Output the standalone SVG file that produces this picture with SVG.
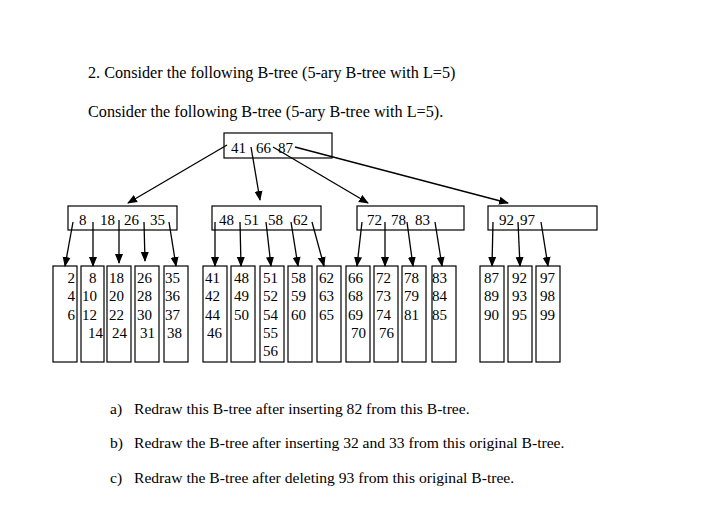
<svg xmlns="http://www.w3.org/2000/svg" width="701" height="516" viewBox="0 0 701 516">
<defs>
<marker id="ah" markerWidth="10" markerHeight="10" refX="9" refY="5" orient="auto" markerUnits="userSpaceOnUse"><path d="M0,1 L10,5 L0,9 z" fill="#000"/></marker>
<style>
text{font-family:"Liberation Serif","Times New Roman",serif;font-size:15px;fill:#000}
.h{font-size:16.2px}
.q{font-size:15.6px}
.b{fill:#fff;stroke:#000;stroke-width:1.2}
.c line{stroke:#000;stroke-width:1.3;marker-end:url(#ah)}
</style>
</defs>
<rect width="701" height="516" fill="#fff"/>
<text class="h" x="88" y="78">2. Consider the following B-tree (5-ary B-tree with L=5)</text>
<text class="h" x="88" y="117">Consider the following B-tree (5-ary B-tree with L=5).</text>
<g id="root"><rect class="b" x="224" y="133" width="108" height="25"/><text x="231" y="153">41</text><text x="256" y="153">66</text><text x="278" y="153">87</text></g>
<g id="n1"><rect class="b" x="68" y="206" width="109" height="24"/><text x="79" y="225">8</text><text x="100" y="225">18</text><text x="124" y="225">26</text><text x="150" y="225">35</text></g>
<g id="n2"><rect class="b" x="212" y="206" width="109" height="24"/><text x="219" y="225">48</text><text x="244" y="225">51</text><text x="268" y="225">58</text><text x="293" y="225">62</text></g>
<g id="n3"><rect class="b" x="357" y="206" width="107" height="24"/><text x="367" y="225">72</text><text x="391" y="225">78</text><text x="415" y="225">83</text></g>
<g id="n4"><rect class="b" x="488" y="206" width="109" height="24"/><text x="499" y="225">92</text><text x="520" y="225">97</text></g>
<g id="leaves">
<g id="l1"><rect class="b" x="53" y="266" width="24" height="96"/><text x="75" y="283" text-anchor="end">2</text><text x="75" y="301" text-anchor="end">4</text><text x="75" y="320" text-anchor="end">6</text></g>
<g id="l2"><rect class="b" x="81" y="266" width="23" height="96"/><text x="89" y="283">8</text><text x="82" y="301">10</text><text x="82" y="320">12</text><text x="88" y="338">14</text></g>
<g id="l3"><rect class="b" x="107" y="266" width="24" height="96"/><text x="109" y="283">18</text><text x="109" y="301">20</text><text x="109" y="320">22</text><text x="112" y="338">24</text></g>
<g id="l4"><rect class="b" x="135" y="266" width="24" height="96"/><text x="137" y="283">26</text><text x="137" y="301">28</text><text x="137" y="320">30</text><text x="140" y="338">31</text></g>
<g id="l5"><rect class="b" x="164" y="266" width="24" height="96"/><text x="165" y="283">35</text><text x="165" y="301">36</text><text x="165" y="320">37</text><text x="167" y="338">38</text></g>
<g id="l6"><rect class="b" x="203" y="266" width="24" height="96"/><text x="205" y="283">41</text><text x="205" y="301">42</text><text x="205" y="320">44</text><text x="207" y="338">46</text></g>
<g id="l7"><rect class="b" x="231" y="266" width="24" height="96"/><text x="234" y="283">48</text><text x="234" y="301">49</text><text x="234" y="320">50</text></g>
<g id="l8"><rect class="b" x="260" y="266" width="24" height="96"/><text x="263" y="283">51</text><text x="263" y="301">52</text><text x="263" y="320">54</text><text x="263" y="338">55</text><text x="263" y="356">56</text></g>
<g id="l9"><rect class="b" x="288" y="266" width="24" height="96"/><text x="291" y="283">58</text><text x="291" y="301">59</text><text x="291" y="320">60</text></g>
<g id="l10"><rect class="b" x="317" y="266" width="24" height="96"/><text x="319" y="283">62</text><text x="319" y="301">63</text><text x="319" y="320">65</text></g>
<g id="l11"><rect class="b" x="346" y="266" width="24" height="96"/><text x="348" y="283">66</text><text x="348" y="301">68</text><text x="348" y="320">69</text><text x="351" y="338">70</text></g>
<g id="l12"><rect class="b" x="374" y="266" width="24" height="96"/><text x="376" y="283">72</text><text x="376" y="301">73</text><text x="376" y="320">74</text><text x="379" y="338">76</text></g>
<g id="l13"><rect class="b" x="402" y="266" width="24" height="96"/><text x="404" y="283">78</text><text x="404" y="301">79</text><text x="404" y="320">81</text></g>
<g id="l14"><rect class="b" x="432" y="266" width="24" height="96"/><text x="432" y="283">83</text><text x="432" y="301">84</text><text x="432" y="320">85</text></g>
<g id="l15"><rect class="b" x="480" y="266" width="24" height="96"/><text x="484" y="283">87</text><text x="484" y="301">89</text><text x="484" y="320">90</text></g>
<g id="l16"><rect class="b" x="508" y="266" width="24" height="96"/><text x="512" y="283">92</text><text x="512" y="301">93</text><text x="512" y="320">95</text></g>
<g id="l17"><rect class="b" x="536" y="266" width="24" height="96"/><text x="540" y="283">97</text><text x="540" y="301">98</text><text x="540" y="320">99</text></g>
</g>
<g id="connectors" class="c">
<line x1="227" y1="145" x2="128" y2="203"/>
<line x1="251" y1="147" x2="260" y2="200"/>
<line x1="273" y1="147" x2="368" y2="203"/>
<line x1="295" y1="147" x2="508" y2="203"/>
<line x1="73" y1="222" x2="65" y2="266"/>
<line x1="93" y1="222" x2="93" y2="266"/>
<line x1="119" y1="220" x2="119" y2="263"/>
<line x1="144" y1="222" x2="145" y2="261"/>
<line x1="169" y1="222" x2="176" y2="266"/>
<line x1="215" y1="222" x2="215" y2="266"/>
<line x1="240" y1="222" x2="241" y2="266"/>
<line x1="266" y1="222" x2="271" y2="266"/>
<line x1="291" y1="222" x2="298" y2="266"/>
<line x1="312" y1="222" x2="324" y2="266"/>
<line x1="362" y1="222" x2="357" y2="266"/>
<line x1="385" y1="222" x2="385" y2="266"/>
<line x1="407" y1="222" x2="413" y2="266"/>
<line x1="435" y1="222" x2="442" y2="266"/>
<line x1="493" y1="222" x2="492" y2="266"/>
<line x1="518" y1="222" x2="520" y2="266"/>
<line x1="541" y1="222" x2="548" y2="266"/>
</g>
<text class="q" x="110" y="414">a)</text><text class="q" x="134" y="414">Redraw this B-tree after inserting 82 from this B-tree.</text>
<text class="q" x="110" y="448">b)</text><text class="q" x="134" y="448">Redraw the B-tree after inserting 32 and 33 from this original B-tree.</text>
<text class="q" x="110" y="483">c)</text><text class="q" x="134" y="483">Redraw the B-tree after deleting 93 from this original B-tree.</text>
</svg>
